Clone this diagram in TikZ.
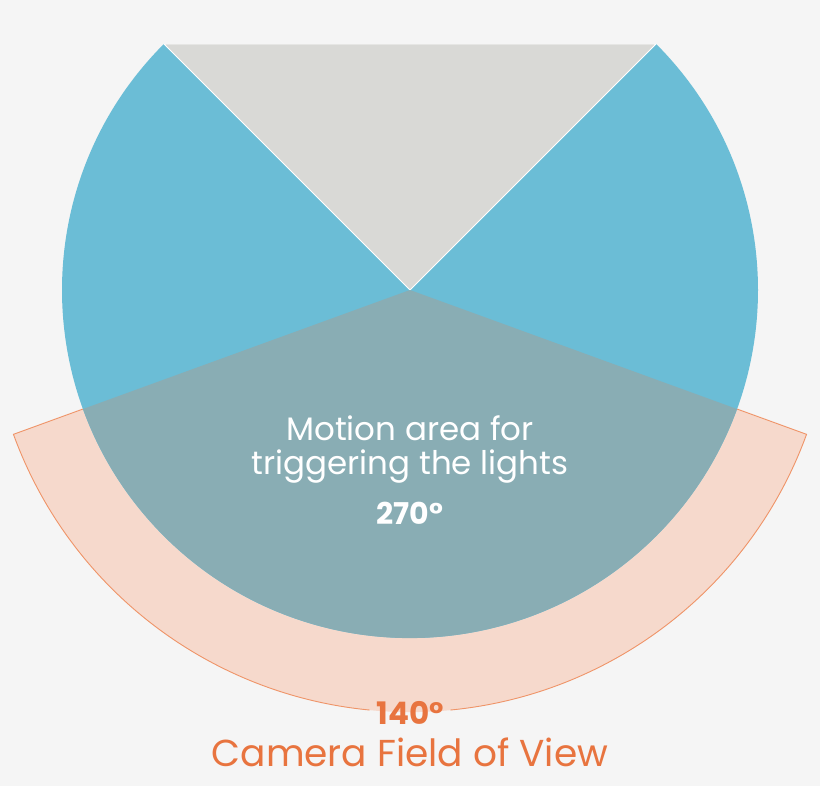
\documentclass[tikz,border=0pt]{standalone}
\usepackage{fontspec}
\setmainfont{Poppins}
\usetikzlibrary{calc}
\definecolor{bg}{HTML}{F5F5F5}
\definecolor{sensorblue}{HTML}{6BBDD6}
\definecolor{topgray}{HTML}{D9D9D6}
\definecolor{camfill}{HTML}{F6D9CC}
\definecolor{camline}{HTML}{EF9468}
\definecolor{overlap}{HTML}{89ADB4}
\definecolor{camtext}{HTML}{E8743F}
\tikzset{
  whitelabel/.style={text=white, align=center, inner sep=0pt},
  camlabel/.style={text=camtext, inner sep=0pt},
  camedge/.style={draw=camline, line width=0.9pt},
}
\begin{document}
\begin{tikzpicture}[x=1pt,y=1pt]
\fill[bg] (0,0) rectangle (820,786);
\useasboundingbox (0,0) rectangle (820,786);
\coordinate (c) at (410,496);
% camera wedge
\fill[camfill]
  (c) -- ++(-20:422) arc[start angle=-20, end angle=-160, radius=422] -- cycle;
\draw[camedge] ($(c)+(-84.5:422)$) arc[start angle=-84.5, end angle=-20, radius=422] -- (c) -- ($(c)+(-160:422)$)
  arc[start angle=-160, end angle=-95.5, radius=422];
% blue sensor area
\fill[sensorblue] (c) -- ++(45:348) arc[start angle=45, end angle=-225, radius=348] -- cycle;
% gray top triangle
\filldraw[fill=topgray, draw=white, line width=0.8pt] (c) -- ++(45:348) -- ($(c)+(135:348)$) -- cycle;
% overlap
\fill[overlap] (c) -- ++(-20:348) arc[start angle=-20, end angle=-160, radius=348] -- cycle;
\node[whitelabel, font=\fontsize{32.5}{34}\selectfont] (motion) at (410,337) {Motion area for\\triggering the lights};
\node[whitelabel, font=\bfseries\fontsize{30}{30}\selectfont] (deg270) at (410,273) {270°};
\node[camlabel, font=\bfseries\fontsize{31}{30}\selectfont] (deg140) at (410,73) {140°};
\node[camlabel, font=\fontsize{37.5}{40}\selectfont] (camera) at (410,34) {Camera Field of View};
\end{tikzpicture}
\end{document}
